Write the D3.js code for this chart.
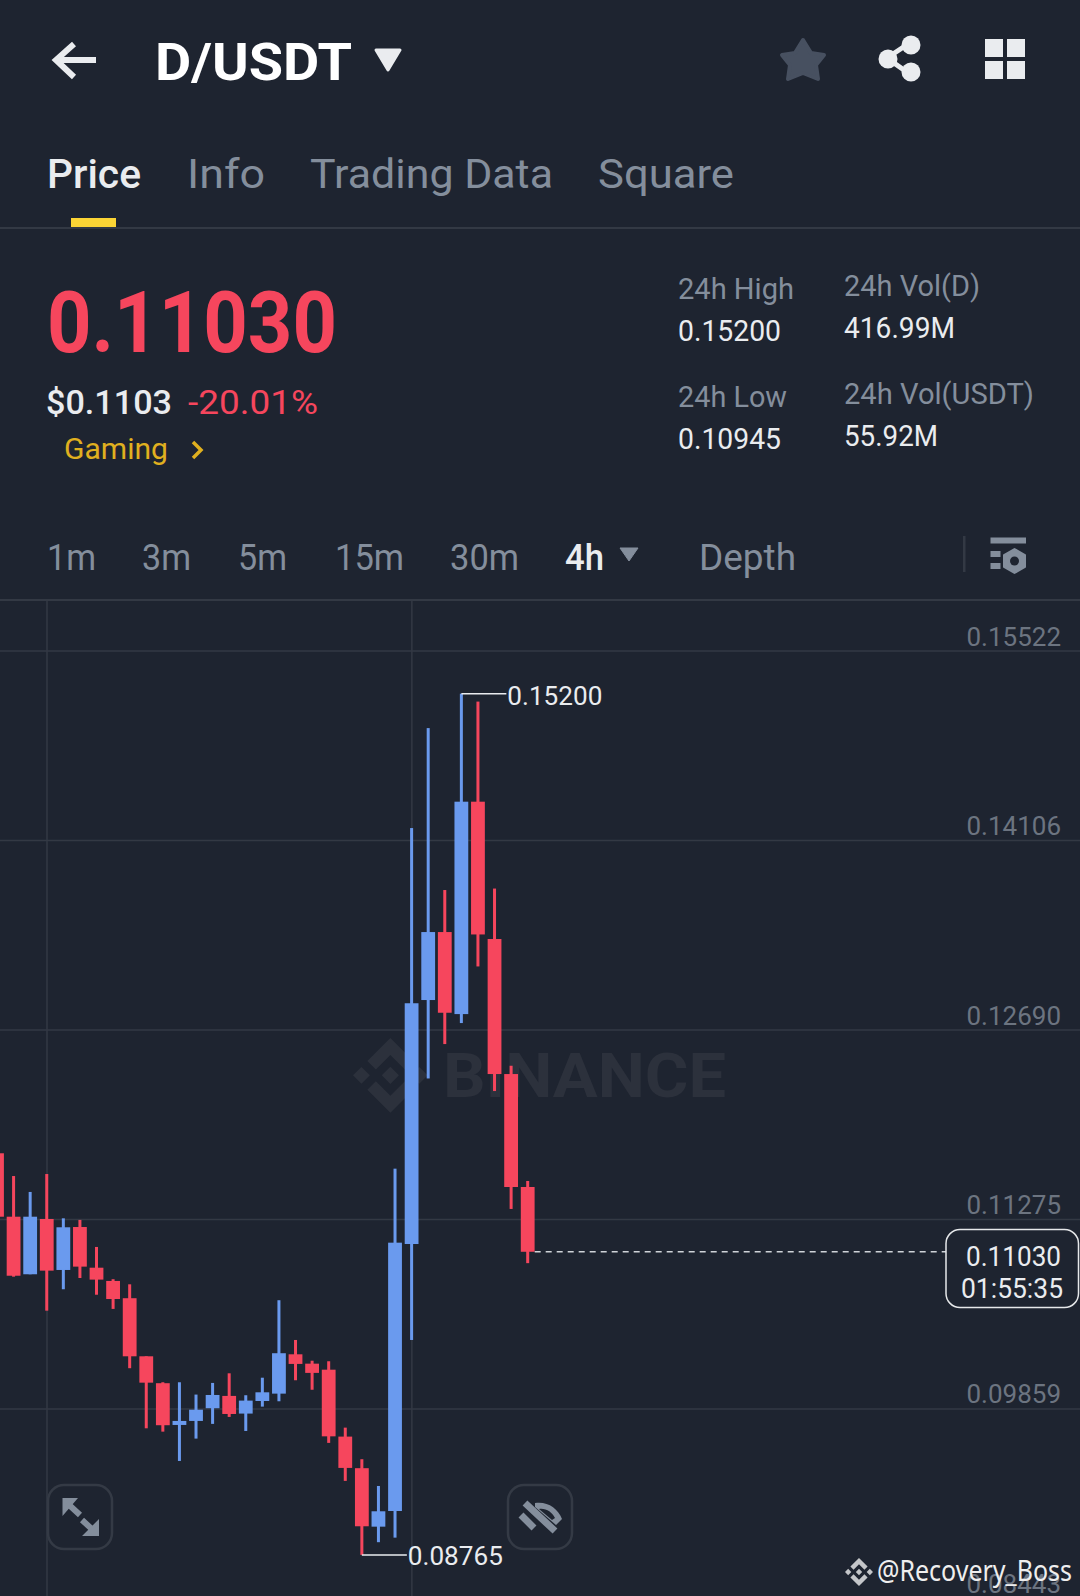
<!DOCTYPE html>
<html>
<head>
<meta charset="utf-8">
<script src="https://cdn.jsdelivr.net/npm/d3@7"></script>
<style>
  html, body { margin: 0; padding: 0; background: #1e2430; }
  svg { display: block; font-family: Roboto, sans-serif; }
</style>
</head>
<body>
<div id="chart"></div>
<script>
const width = 1080;
const height = 1596;

// candles, oldest first
const opens = [0.11766, 0.11292, 0.10862, 0.11275, 0.10894, 0.11215, 0.10911, 0.10812, 0.10683, 0.10249, 0.10048, 0.09736, 0.09766, 0.09861, 0.09953, 0.09821, 0.09915, 0.09970, 0.10264, 0.10194, 0.10149, 0.09649, 0.09413, 0.08976, 0.09093, 0.11088, 0.12911, 0.13419, 0.12806, 0.14393, 0.13367, 0.12358, 0.11514];
const closes = [0.11292, 0.10851, 0.11292, 0.10889, 0.11213, 0.10919, 0.10822, 0.10677, 0.10249, 0.10052, 0.09734, 0.09766, 0.09850, 0.09960, 0.09818, 0.09918, 0.09980, 0.10272, 0.10192, 0.10125, 0.09651, 0.09415, 0.08979, 0.09091, 0.11098, 0.12887, 0.13419, 0.12816, 0.14393, 0.13401, 0.12358, 0.11514, 0.11030];
const highs = [0.11766, 0.11596, 0.11477, 0.11611, 0.11280, 0.11268, 0.11066, 0.10825, 0.10787, 0.10249, 0.10055, 0.10055, 0.09963, 0.10050, 0.10122, 0.09958, 0.10089, 0.10668, 0.10371, 0.10216, 0.10212, 0.09716, 0.09480, 0.09280, 0.11651, 0.14196, 0.14943, 0.13733, 0.15200, 0.15141, 0.13744, 0.12420, 0.11559];
const lows = [0.11292, 0.10844, 0.10862, 0.10590, 0.10750, 0.10834, 0.10709, 0.10603, 0.10160, 0.09711, 0.09686, 0.09467, 0.09634, 0.09744, 0.09796, 0.09691, 0.09873, 0.09913, 0.10070, 0.09999, 0.09602, 0.09318, 0.08765, 0.08860, 0.08894, 0.10371, 0.12325, 0.12582, 0.12739, 0.13162, 0.12231, 0.11350, 0.10945];

const priceTicks = [0.15522, 0.14106, 0.12690, 0.11275, 0.09859, 0.08443];
const timeTickCandles = [3, 25];
const lastPrice = 0.11030;
const highPrice = 0.15200;
const lowPrice = 0.08765;
const highIndex = 28;
const lowIndex = 22;

const pageTabs = ["Price", "Info", "Trading Data", "Square"];
const intervals = ["1m", "3m", "5m", "15m", "30m", "4h", "Depth"];

const bg = "#1e2430";
const red = "#f6465d";
const blue = "#6a9aee";
const gray = "#848e9c";
const axisGray = "#6c7480";
const white = "#eaecef";
const lineColor = "#333944";

const logoPath = "M38.73 53.2l24.59-24.58 24.6 24.6 14.3-14.31L63.32 0 24.43 38.9zM0 63.31l14.3-14.31 14.31 14.31-14.31 14.3zM38.73 73.41l24.59 24.59 24.6-24.6 14.31 14.29-38.9 38.91-38.91-38.88-.02-.02zM98.0 63.31l14.3-14.31 14.31 14.3-14.31 14.3zM77.83 63.3L63.32 48.78 52.59 59.51l-1.24 1.23-2.54 2.54 14.51 14.5 14.51-14.47z";

const svg = d3.select("#chart").append("svg").attr("width", width).attr("height", height);

svg.append("rect").attr("width", width).attr("height", height).attr("fill", bg);

function label(parent, txt, x, y, size, fill, weight, w, anchor) {
    const t = parent.append("text")
        .attr("x", x).attr("y", y)
        .attr("font-size", size).attr("fill", fill)
        .attr("font-weight", weight || 400)
        .attr("text-anchor", anchor || "start")
        .text(txt);
    if (w) t.attr("textLength", w).attr("lengthAdjust", "spacingAndGlyphs");
    return t;
}

//header
const header = svg.append("g");
header.append("path").attr("d", "M96 60H58M74 44L56 60L74 77")
    .attr("fill", "none").attr("stroke", white).attr("stroke-width", 6);
label(header, "D/USDT", 155, 80, 52, "#ffffff", 700, 197);
header.append("path").attr("d", "M376 50H400L388 70Z").attr("fill", white)
    .attr("stroke", white).attr("stroke-width", 3).attr("stroke-linejoin", "round");
header.append("path")
    .attr("d", "M803 40L811 53L824 55L816 65L818 79L803 73L788 79L790 65L782 55L795 53Z")
    .attr("fill", "#475060").attr("stroke", "#475060").attr("stroke-width", 4).attr("stroke-linejoin", "round");
header.append("path").attr("d", "M911 42L887 58L911 75")
    .attr("fill", "none").attr("stroke", white).attr("stroke-width", 5);
[[911, 45], [888, 59], [911, 72]].forEach(c => {
    header.append("circle").attr("cx", c[0]).attr("cy", c[1]).attr("r", 9.5).attr("fill", white);
});
[[985, 39], [1007, 39], [985, 61], [1007, 61]].forEach(c => {
    header.append("rect").attr("x", c[0]).attr("y", c[1]).attr("width", 18).attr("height", 18).attr("fill", white);
});

//page tabs
const tabX = [47, 187, 310, 598];
const tabW = [94, 78, 243, 136];
pageTabs.forEach((d, i) => {
    label(header, d, tabX[i], 188, 40, i === 0 ? white : gray, i === 0 ? 500 : 400, tabW[i]);
});
header.append("rect").attr("x", 71).attr("y", 218).attr("width", 45).attr("height", 9).attr("fill", "#fcd535");
header.append("rect").attr("x", 0).attr("y", 227).attr("width", width).attr("height", 2).attr("fill", lineColor);

//price block
const stats = svg.append("g");
label(stats, d3.format(".5f")(lastPrice), 47, 352, 85, red, 700, 290);
label(stats, "$0.1103", 46, 414, 34, white, 500, 126);
label(stats, "-20.01%", 188, 414, 34, red, 400, 130);
label(stats, "Gaming", 64, 459, 30, "#e0b01f", 400, 104);
stats.append("path").attr("d", "M193 442L201 450L193 458").attr("fill", "none")
    .attr("stroke", "#e0b01f").attr("stroke-width", 3.5);

label(stats, "24h High", 678, 299, 30, gray, 400, 116);
label(stats, "0.15200", 678, 341, 30, white, 400, 103);
label(stats, "24h Low", 678, 407, 30, gray, 400, 109);
label(stats, "0.10945", 678, 449, 30, white, 400, 103);
label(stats, "24h Vol(D)", 844, 296, 30, gray, 400, 136);
label(stats, "416.99M", 844, 338, 30, white, 400, 111);
label(stats, "24h Vol(USDT)", 844, 404, 30, gray, 400, 190);
label(stats, "55.92M", 844, 446, 30, white, 400, 94);

//interval row
const intervalX = [47, 142, 238, 335, 450, 565, 699];
const intervalW = [49, 49, 49, 69, 69, 39, 97];
intervals.forEach((d, i) => {
    label(stats, d, intervalX[i], 570, 36, d === "4h" ? white : gray, d === "4h" ? 500 : 400, intervalW[i]);
});
stats.append("path").attr("d", "M620 548H638L629 561Z").attr("fill", gray)
    .attr("stroke", gray).attr("stroke-linejoin", "round");
stats.append("rect").attr("x", 963).attr("y", 536).attr("width", 2.5).attr("height", 36).attr("fill", lineColor);
stats.append("rect").attr("x", 990.5).attr("y", 537.5).attr("width", 35.5).attr("height", 6).attr("fill", gray);
stats.append("rect").attr("x", 990.5).attr("y", 551).attr("width", 10).attr("height", 6).attr("fill", gray);
stats.append("rect").attr("x", 990.5).attr("y", 563).attr("width", 10).attr("height", 6).attr("fill", gray);
stats.append("path").attr("d", "M1014.5 549L1025 555V567L1014.5 573L1004 567V555Z").attr("fill", gray)
    .attr("stroke", gray).attr("stroke-width", 2).attr("stroke-linejoin", "round");
stats.append("circle").attr("cx", 1014.5).attr("cy", 561).attr("r", 4.5).attr("fill", bg);
stats.append("rect").attr("x", 0).attr("y", 599).attr("width", width).attr("height", 2).attr("fill", lineColor);

//chart
const xScale = d3.scaleLinear().domain([0, opens.length - 1]).range([-3, 527.7]);
const yScale = d3.scaleLinear()
    .domain([priceTicks[priceTicks.length - 1], priceTicks[0]])
    .range([1598, 650.6]);

const chart = svg.append("g");

// time grid
chart.selectAll(".time-line")
    .data(timeTickCandles)
    .join("rect")
    .attr("class", "time-line")
    .attr("x", d => xScale(d) - 0.5)
    .attr("y", 601)
    .attr("width", 1.5)
    .attr("height", height - 601)
    .attr("fill", lineColor);

// price axis: full width tick lines, labels sit over the line at the right
const yAxis = d3.axisRight(yScale)
    .tickValues(priceTicks)
    .tickSize(width)
    .tickFormat(d3.format(".5f"));

const axisG = chart.append("g").attr("class", "y-axis").call(yAxis);
axisG.select(".domain").remove();
axisG.selectAll(".tick line").attr("stroke", lineColor).attr("stroke-width", 1.5);
axisG.selectAll(".tick text")
    .attr("x", 1061)
    .attr("dy", -5.5)
    .attr("y", 0)
    .attr("text-anchor", "end")
    .attr("font-family", "Roboto, sans-serif")
    .attr("font-size", 26)
    .attr("fill", axisGray);

//watermark
const mark = chart.append("g");
mark.append("path").attr("d", logoPath)
    .attr("transform", "translate(353,1038) scale(0.59)")
    .attr("fill", "#2c313c");
label(mark, "BINANCE", 443, 1097, 62, "#2c313c", 700, 283);

//candles
const candles = opens.map((d, i) => ({ i, open: d, close: closes[i], high: highs[i], low: lows[i] }));
const candleColor = d => d.close >= d.open ? blue : red;

const candleG = chart.selectAll(".candle").data(candles).join("g").attr("class", "candle");
candleG.append("rect")
    .attr("x", d => xScale(d.i) - 1.5)
    .attr("y", d => yScale(d.high))
    .attr("width", 3)
    .attr("height", d => yScale(d.low) - yScale(d.high))
    .attr("fill", candleColor);
candleG.append("rect")
    .attr("x", d => xScale(d.i) - 6.9)
    .attr("y", d => yScale(Math.max(d.open, d.close)))
    .attr("width", 13.8)
    .attr("height", d => Math.max(3, Math.abs(yScale(d.open) - yScale(d.close))))
    .attr("fill", candleColor);

//high and low callouts
const callout = chart.append("g");
callout.append("line")
    .attr("x1", xScale(highIndex)).attr("x2", xScale(highIndex) + 45)
    .attr("y1", yScale(highPrice)).attr("y2", yScale(highPrice))
    .attr("stroke", white).attr("stroke-width", 1.5);
label(callout, d3.format(".5f")(highPrice), xScale(highIndex) + 46, yScale(highPrice) + 11, 26, white, 400, 95);
callout.append("line")
    .attr("x1", xScale(lowIndex)).attr("x2", xScale(lowIndex) + 45)
    .attr("y1", yScale(lowPrice)).attr("y2", yScale(lowPrice))
    .attr("stroke", white).attr("stroke-width", 1.5);
label(callout, d3.format(".5f")(lowPrice), xScale(lowIndex) + 46, yScale(lowPrice) + 10.5, 26, white, 400, 95);

//last price line and box
callout.append("line")
    .attr("x1", xScale(candles.length - 1) + 7).attr("x2", 946)
    .attr("y1", yScale(lastPrice)).attr("y2", yScale(lastPrice))
    .attr("stroke", "#cfd3d8").attr("stroke-width", 1.5).attr("stroke-dasharray", "6 5");
callout.append("rect")
    .attr("x", 946).attr("y", 1229.5).attr("width", 132.5).attr("height", 78).attr("rx", 14)
    .attr("fill", bg).attr("stroke", "#e6e8ea").attr("stroke-width", 1.5);
label(callout, d3.format(".5f")(lastPrice), 1061, 1266, 27, white, 400, 95, "end");
label(callout, "01:55:35", 1063, 1298, 27, white, 400, 102, "end");

//floating buttons
const buttons = svg.append("g");
[48, 508].forEach(x => {
    buttons.append("rect").attr("x", x).attr("y", 1485).attr("width", 64).attr("height", 64).attr("rx", 16)
        .attr("fill", "none").attr("stroke", "#343a45").attr("stroke-width", 2.5);
});
buttons.append("path").attr("d", "M62.5 1498H78L62.5 1516ZM99 1536H82L99 1519Z").attr("fill", gray);
buttons.append("path").attr("d", "M67 1503L80 1515M94 1531L82 1520").attr("stroke", gray).attr("stroke-width", 6);
// crossed out eye
buttons.append("path").attr("d", "M525 1503L555 1531M521 1515L534 1528").attr("stroke", gray).attr("stroke-width", 7);
buttons.append("path").attr("fill-rule", "evenodd").attr("fill", gray)
    .attr("d", "M535 1503C547 1501 558 1508 562 1519L556 1525L535 1507ZM539 1509L552 1520L555 1518C552 1512 546 1508 539 1509Z");

//user watermark on top
const stamp = svg.append("g");
stamp.append("path").attr("d", logoPath)
    .attr("transform", "translate(845,1558) scale(0.221)")
    .attr("fill", "#c4c6c9");
label(stamp, "@Recovery_Boss", 877, 1581, 29, "#eeeeee", 400, 195).attr("font-family", "'Noto Sans', sans-serif");
</script>
</body>
</html>
